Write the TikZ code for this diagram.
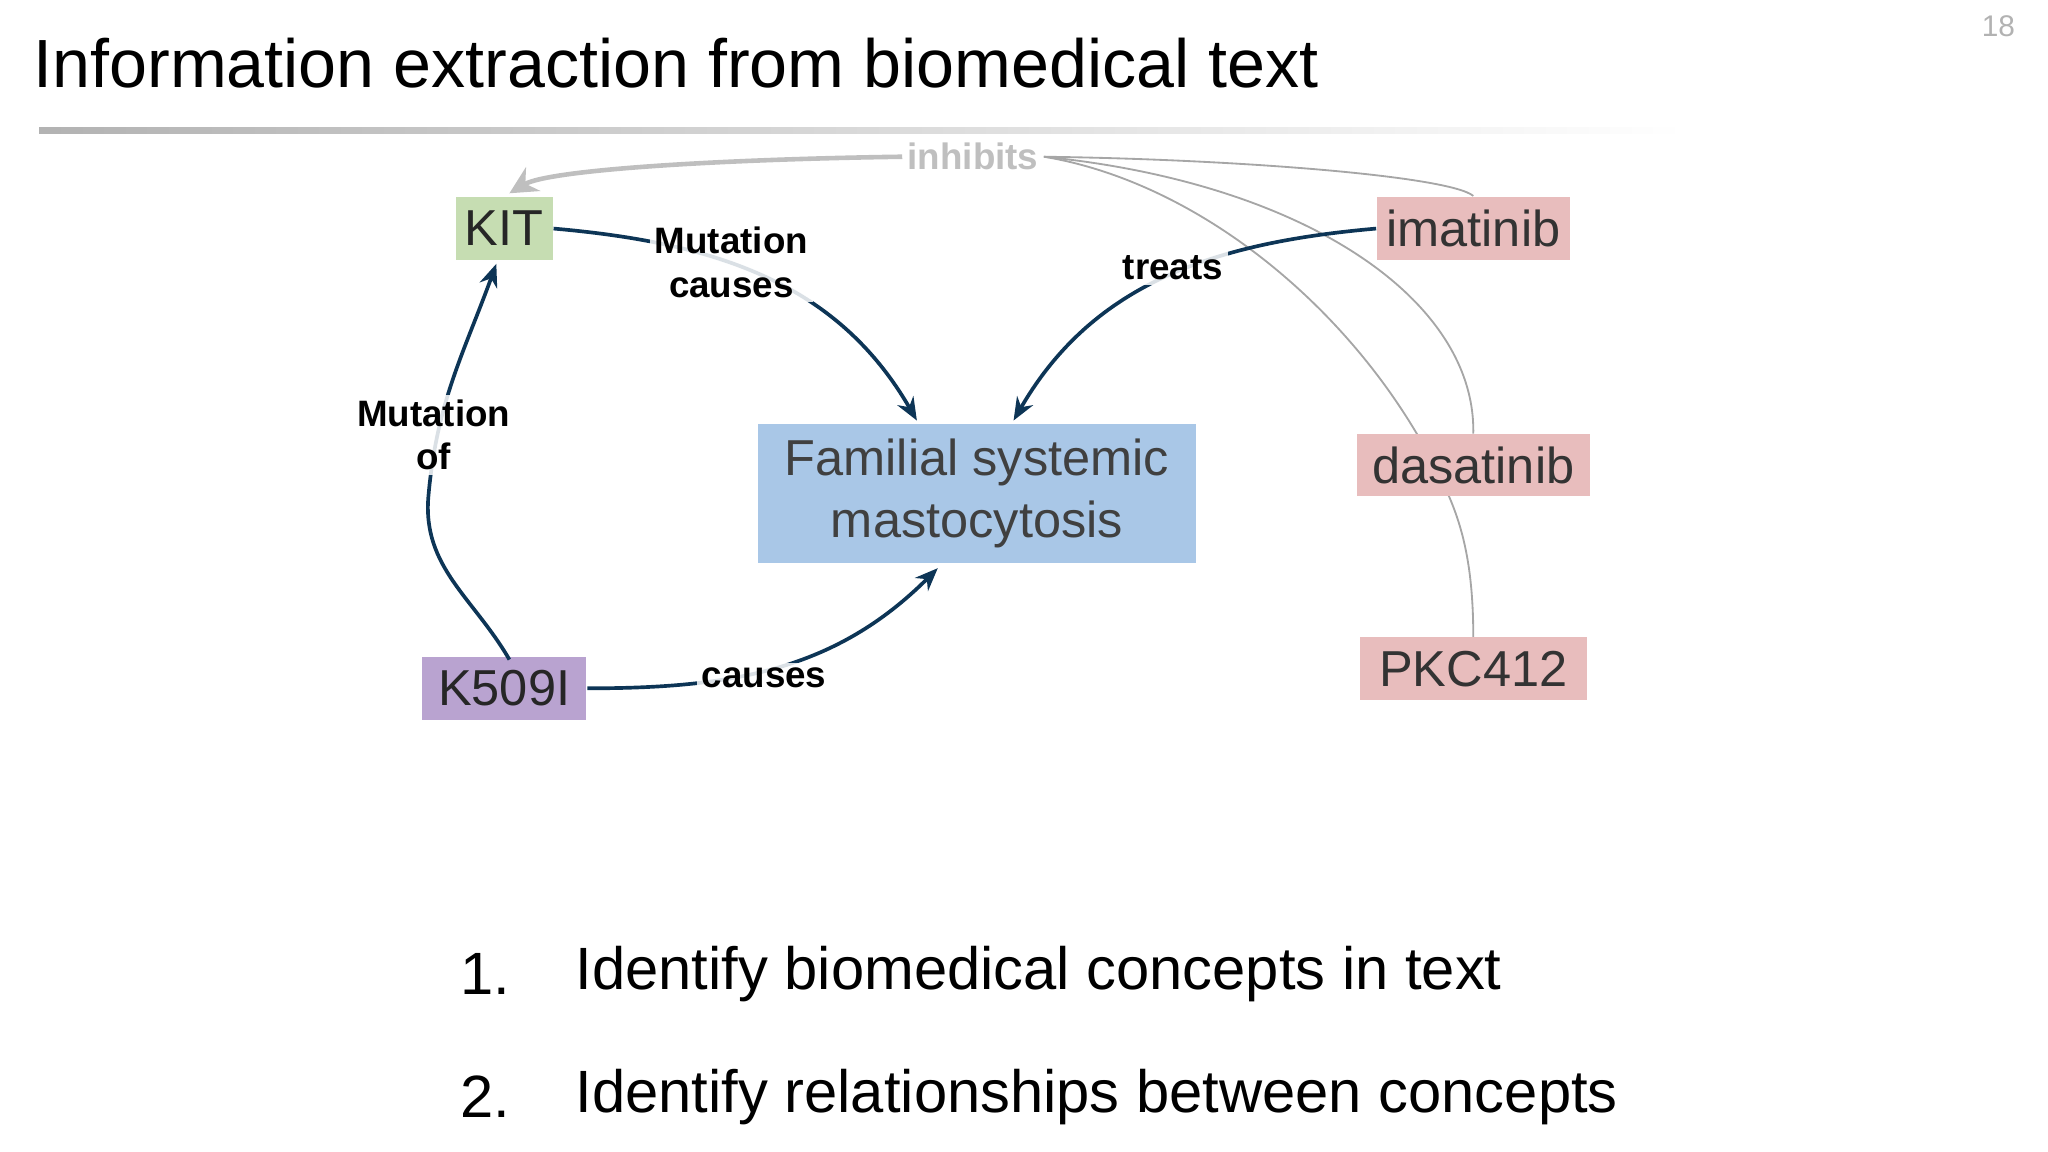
\documentclass[tikz,border=0pt]{standalone}
\usepackage{fontspec}
\setmainfont{Liberation Sans}
\usetikzlibrary{arrows.meta}
\definecolor{navy}{HTML}{0D3556}
\definecolor{kitg}{HTML}{C6DDB2}
\definecolor{drugp}{HTML}{E8BDBD}
\definecolor{mutp}{HTML}{B9A3D0}
\definecolor{dis}{HTML}{A9C7E7}
\begin{document}
\begin{tikzpicture}[x=0.01cm,y=-0.01cm,
 box/.style={draw=none,minimum height=0.48cm,inner sep=2pt,font=\fontsize{11}{12}\selectfont},
 rel/.style={navy,line width=0.8pt,-{Stealth[length=5pt,width=4pt]}},
 lab/.style={fill=white,fill opacity=0.85,text opacity=1,inner sep=1pt,font=\bfseries\fontsize{8}{9.5}\selectfont,align=center},
 lst/.style={anchor=west,inner sep=0pt,font=\fontsize{13}{15}\selectfont},
 inh/.style={gray!70,line width=0.4pt}]
\useasboundingbox (0,0) rectangle (1568,882);
\node[anchor=west,inner sep=0pt,font=\fontsize{14.85}{17}\selectfont] (title) at (25,48) {Information extraction from biomedical text};
\shade[left color=gray!60,right color=white] (30,98) rectangle (1290,102);
\node[gray!60,font=\fontsize{6.5}{7}\selectfont] (pg) at (1530,20) {18};
% inhibits lines
\node[lab,text=gray!50] (inhl) at (745,120) {inhibits};
\draw[inh] (1128,150) .. controls (1110,135) and (950,122) .. (inhl.east);
\draw[inh] (1128,332) .. controls (1130,230) and (1000,140) .. (inhl.east);
\draw[inh] (1128,488) .. controls (1128,420) and (1115,390) .. (1100,360) .. controls (1040,240) and (920,140) .. (inhl.east);
\draw[inh,gray!50,line width=1pt,-{Stealth[length=6pt,width=6pt]}] (inhl.west) .. controls (550,122) and (420,130) .. (390,148);
% entities
\node[box,fill=kitg,minimum width=0.7cm,text=black!85] (kit) at (386,175) {KIT};
\node[box,fill=drugp,minimum width=1.4cm,text=black!80] (ima) at (1128,175) {imatinib};
\node[box,fill=drugp,minimum width=1.78cm,text=black!80] (das) at (1128,356) {dasatinib};
\node[box,fill=drugp,minimum width=1.74cm,text=black!80] (pkc) at (1128,512) {PKC412};
\node[box,fill=mutp,minimum width=1.26cm,text=black!85] (k509) at (386,527) {K509I};
\node[box,fill=dis,minimum width=3.35cm,minimum height=1.06cm,align=center,text=black!75,font=\fontsize{11}{13.5}\selectfont] (fsm) at (748,378) {Familial systemic\\mastocytosis};
% relations
\coordinate (a1) at (702,322);
\coordinate (a2) at (776,322);
\coordinate (a3) at (380,202);
\coordinate (a4) at (718,435);
\draw[rel] (kit.east) to[out=-5,in=120] (a1);
\draw[rel] (ima.west) to[out=185,in=60] (a2);
\draw[rel] (390,505) to[out=120,in=-95] (328,380) to[out=85,in=-110] (a3);
\draw[rel] (k509.east) to[out=0,in=-135] (a4);
\node[lab] (l1) at (560,201) {Mutation\\causes};
\node[lab] (l2) at (898,205) {treats};
\node[lab] (l3) at (332,333) {Mutation\\of};
\node[lab] (l4) at (585,519) {causes};
% list
\node[lst] (n1) at (352,746) {1.};
\node[lst] (t1) at (440,746) {Identify biomedical concepts in text};
\node[lst] (n2) at (352,840) {2.};
\node[lst] (t2) at (440,840) {Identify relationships between concepts};
\end{tikzpicture}
\end{document}
